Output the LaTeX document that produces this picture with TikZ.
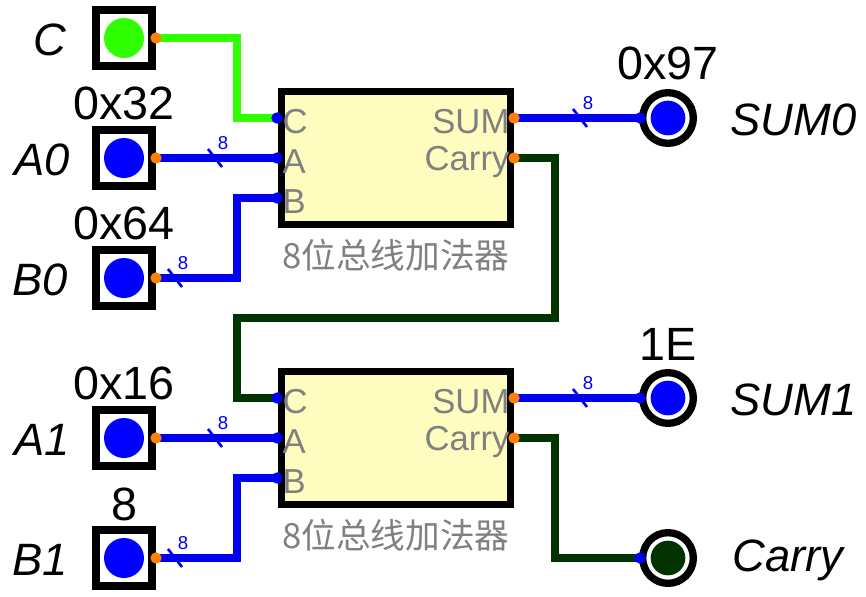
\documentclass[tikz,border=0pt]{standalone}
\usepackage{fontspec}
\setmainfont{Liberation Sans}
\newfontfamily\cjk{Noto Sans CJK SC}
\begin{document}
\begin{tikzpicture}[x=0.75pt,y=-0.75pt,
  inbox/.style={draw=black,line width=5.5pt,fill=white,minimum size=42pt,inner sep=0pt},
  outring/.style={circle,draw=black,line width=5.5pt,fill=white,minimum size=38pt,inner sep=0pt},
  lamp/.style={circle,minimum size=30pt,inner sep=0pt},
  olamp/.style={circle,minimum size=26pt,inner sep=0pt},
  adder/.style={draw=black,line width=5.5pt,fill=yellow!25,minimum width=172pt,minimum height=100pt,inner sep=0pt},
  big/.style={font=\fontsize{35}{35}\selectfont},
  nm/.style={font=\fontsize{34}{34}\selectfont\itshape},
  port/.style={font=\fontsize{26}{26}\selectfont,text=gray,inner sep=1pt},
  sub/.style={font=\fontsize{26}{26}\selectfont\cjk,text=gray},
  bw/.style={blue!95!black,line width=5.5pt},
  gw/.style={green!75!lime,line width=5.5pt},
  dw/.style={green!20!black,line width=5.5pt},
  odot/.style={circle,fill=orange,minimum size=8.5pt,inner sep=0pt},
  bdot/.style={circle,fill=blue,minimum size=8.5pt,inner sep=0pt},
  bus/.style={blue,line width=2pt},
  buslab/.style={font=\fontsize{14}{14}\selectfont,text=blue}]
\useasboundingbox (0,0) rectangle (866,596);
% inputs
\foreach \n/\y/\c in {iC/38/green!75!lime,iA0/158/blue,iB0/278/blue,iA1/438/blue,iB1/558/blue}{
  \node[inbox] (\n) at (124,\y) {};
  \node[lamp,fill=\c] at (124,\y) {};
  \coordinate (\n o) at (156,\y);
}
\node[nm] (lC) at (50,40) {C};
\node[nm] (lA0) at (42,160) {A0};
\node[nm] (lB0) at (40,280) {B0};
\node[nm] (lA1) at (42,440) {A1};
\node[nm] (lB1) at (40,560) {B1};
\node[big] (v1) at (124,103) {0x32};
\node[big] (v2) at (124,223) {0x64};
\node[big] (v3) at (124,383) {0x16};
\node[big] (v4) at (124,504) {8};
% adders
\foreach \n/\y in {ad1/158,ad2/438}{
  \node[adder] (\n) at (396,\y) {};
  \coordinate (\n C) at (277,\y-40);
  \coordinate (\n A) at (277,\y);
  \coordinate (\n B) at (277,\y+40);
  \coordinate (\n S) at (514,\y-40);
  \coordinate (\n K) at (514,\y);
  \node[port,anchor=west] (\n lc) at (281,\y-36) {C};
  \node[port,anchor=west] (\n la) at (281,\y+4) {A};
  \node[port,anchor=west] (\n lb) at (281,\y+44) {B};
  \node[port,anchor=east] (\n ls) at (511,\y-36) {SUM};
  \node[port,anchor=east] (\n lk) at (511,\y+4) {Carry};
  \node[sub] (\n t) at (396,\y+97) {8位总线加法器};
}
% outputs
\foreach \n/\y/\c in {oS0/118/blue,oS1/398/blue,oK/558/green!20!black}{
  \node[outring] (\n) at (668,\y) {};
  \node[olamp,fill=\c] at (668,\y) {};
  \coordinate (\n i) at (640,\y);
}
\node[big] (v5) at (668,63) {0x97};
\node[big] (v6) at (668,344) {1E};
\node[nm,anchor=west] (l5) at (726,120) {SUM0};
\node[nm,anchor=west] (l6) at (726,400) {SUM1};
\node[nm,anchor=west] (l7) at (728,560) {Carry};
% wires
\draw[gw] (iCo) -| (237,118) -- (ad1C);
\draw[bw] (iA0o) -- (ad1A);
\draw[bw] (iB0o) -| (237,198) -- (ad1B);
\draw[bw] (iA1o) -- (ad2A);
\draw[bw] (iB1o) -| (237,478) -- (ad2B);
\draw[dw] (ad1K) -| (555,318) -| (237,398) -- (ad2C);
\draw[bw] (ad1S) -- (oS0i);
\draw[bw] (ad2S) -- (oS1i);
\draw[dw] (ad2K) -| (555,558) -- (oKi);
% bus marks
\foreach \x/\y in {215/158,175/278,215/438,175/558,580/118,580/398}{
  \draw[bus] (\x-7,\y-9) -- (\x+7,\y+9);
  \node[buslab] at (\x+8,\y-15) {8};
}
% dots
\foreach \p in {iCo,iA0o,iB0o,iA1o,iB1o,ad1S,ad1K,ad2S,ad2K}{\node[odot] at (\p) {};}
\foreach \p in {ad1C,ad1A,ad1B,ad2C,ad2A,ad2B,oS0i,oS1i,oKi}{\node[bdot] at (\p) {};}
\end{tikzpicture}
\end{document}
